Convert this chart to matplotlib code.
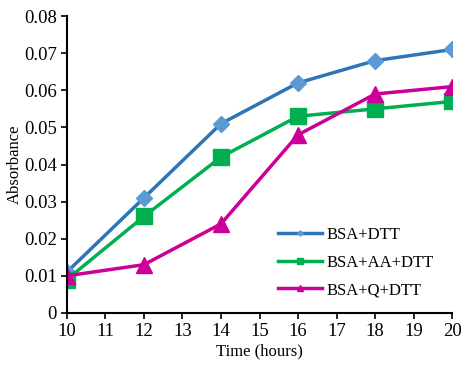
import matplotlib
matplotlib.use('Agg')
import matplotlib.pyplot as plt

# --- Datos ---
hours = [10, 12, 14, 16, 18, 20]
bsa_dtt = [0.011, 0.031, 0.051, 0.062, 0.068, 0.071]
bsa_aa_dtt = [0.009, 0.026, 0.042, 0.053, 0.055, 0.057]
bsa_q_dtt = [0.010, 0.013, 0.024, 0.048, 0.059, 0.061]
labels = ['BSA+DTT', 'BSA+AA+DTT', 'BSA+Q+DTT']
y_ticks = [0, 0.01, 0.02, 0.03, 0.04, 0.05, 0.06, 0.07, 0.08]
y_ticklabels = ['0', '0.01', '0.02', '0.03', '0.04', '0.05', '0.06', '0.07', '0.08']

plt.rcParams['font.family'] = 'Liberation Serif'

fig = plt.figure(figsize=(4.74, 3.66), dpi=100)
ax = fig.add_axes([0.141, 0.145, 0.813, 0.811])

ax.plot(hours, bsa_dtt, color='#2E75B6', lw=2.5, marker='D', ms=8,
        mfc='#5B9BD5', mec='#5B9BD5', label=labels[0])
ax.plot(hours, bsa_aa_dtt, color='#00B050', lw=2.5, marker='s', ms=11,
        mfc='#00B050', mec='#00B050', label=labels[1])
ax.plot(hours, bsa_q_dtt, color='#CC0099', lw=2.5, marker='^', ms=11,
        mfc='#CC0099', mec='#CC0099', label=labels[2])

ax.set_xlim(10, 20)
ax.set_ylim(0, 0.08)
ax.set_xticks(range(10, 21))
ax.set_yticks(y_ticks)
ax.set_yticklabels(y_ticklabels)
ax.tick_params(direction='out', length=4, width=1.2, labelsize=13.5, colors='black', pad=3)
for s in ['top', 'right']:
    ax.spines[s].set_visible(False)
for s in ['left', 'bottom']:
    ax.spines[s].set_linewidth(1.5)
    ax.spines[s].set_color('black')

ax.set_xlabel('Time (hours)', fontsize=12, labelpad=3)
ax.set_ylabel('Absorbance', fontsize=12, labelpad=1)

ax.legend(loc='upper left', bbox_to_anchor=(0.548, 0.29), frameon=False,
          fontsize=12, markerscale=0.33, handlelength=2.65, handletextpad=0.25,
          labelspacing=0.7, borderpad=0, borderaxespad=0)

fig.savefig('out.png', dpi=100)
